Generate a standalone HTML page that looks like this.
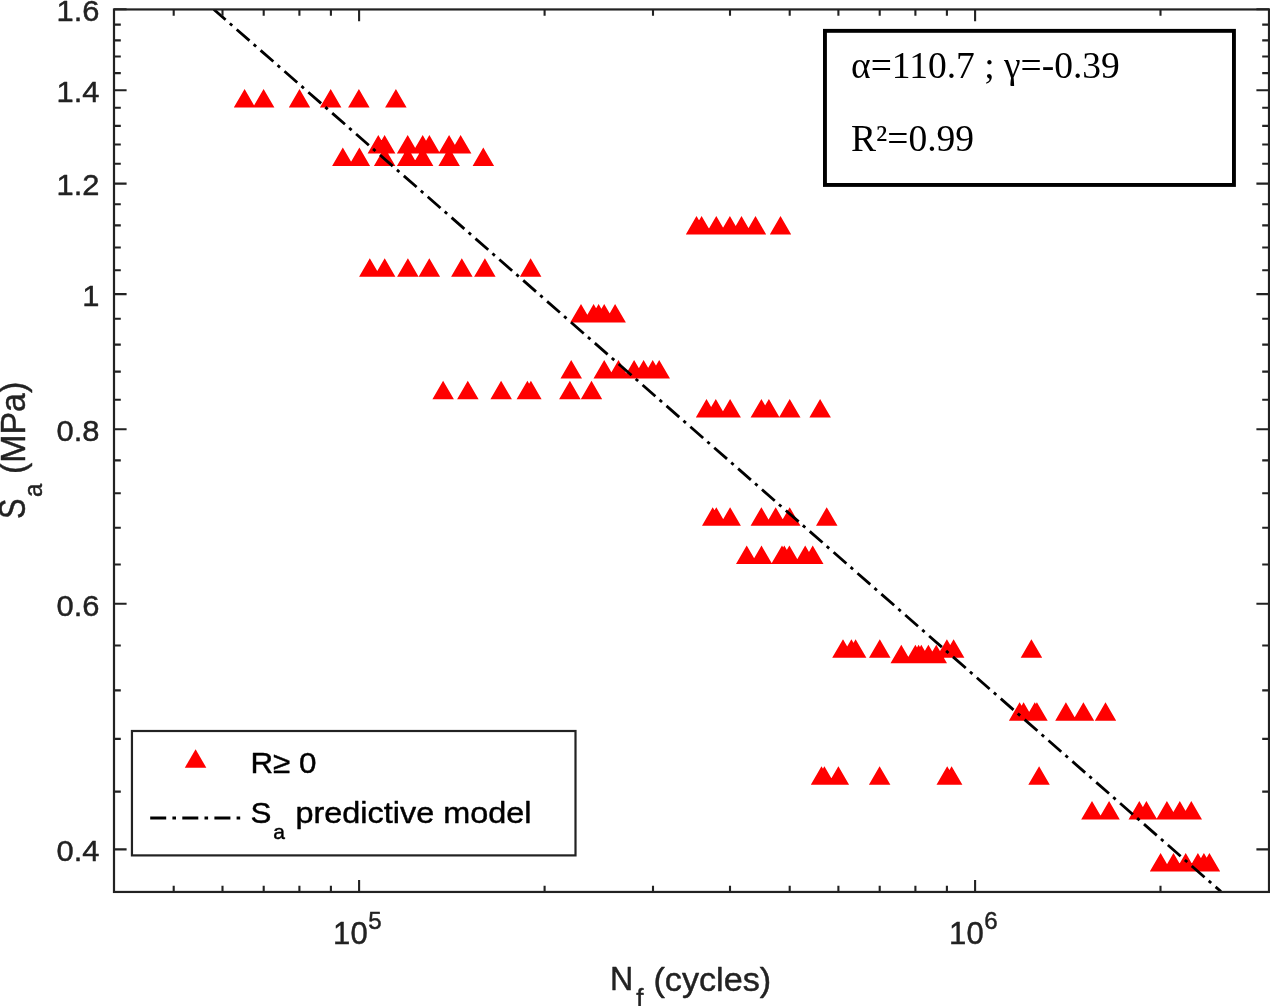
<!DOCTYPE html>
<html lang="en"><head><meta charset="utf-8"><title>S-N curve</title>
<style>html,body{margin:0;padding:0;background:#fff;overflow:hidden}svg{display:block}.s{font-family:"Liberation Sans",Arial,Helvetica,sans-serif}.t{font-family:"Liberation Serif","Times New Roman",serif}</style></head><body>
<svg width="1270" height="1006" viewBox="0 0 1270 1006">
<rect width="1270" height="1006" fill="#fff"/>
<path d="M244.6 88.9L255.3 107.4H233.8ZM263.6 88.9L274.4 107.4H252.9ZM299.5 88.9L310.2 107.4H288.8ZM330.7 88.9L341.4 107.4H319.9ZM358.9 88.9L369.6 107.4H348.1ZM395.9 88.9L406.6 107.4H385.1ZM342.8 147.4L353.6 165.9H332.1ZM359.4 147.4L370.1 165.9H348.6ZM384.6 147.4L395.4 165.9H373.9ZM407.7 147.4L418.4 165.9H396.9ZM422.7 147.4L433.4 165.9H411.9ZM449.1 147.4L459.9 165.9H438.4ZM483.3 147.4L494.1 165.9H472.6ZM378.3 134.9L389.1 153.4H367.6ZM384.6 134.9L395.4 153.4H373.9ZM407.7 134.9L418.4 153.4H396.9ZM422.7 134.9L433.4 153.4H411.9ZM429.4 134.9L440.1 153.4H418.6ZM449.1 134.9L459.9 153.4H438.4ZM460.6 134.9L471.4 153.4H449.9ZM696.5 216.1L707.2 234.6H685.8ZM701.6 216.1L712.4 234.6H690.9ZM716.3 216.1L727.0 234.6H705.5ZM729.9 216.1L740.6 234.6H719.1ZM741.5 216.1L752.2 234.6H730.8ZM755.5 216.1L766.2 234.6H744.8ZM780.5 216.1L791.2 234.6H769.8ZM369.8 258.3L380.6 276.8H359.1ZM384.7 258.3L395.4 276.8H373.9ZM407.9 258.3L418.6 276.8H397.1ZM429.3 258.3L440.1 276.8H418.6ZM461.8 258.3L472.6 276.8H451.1ZM484.9 258.3L495.6 276.8H474.1ZM530.6 258.3L541.4 276.8H519.9ZM581.0 303.9L591.8 322.4H570.2ZM593.6 303.9L604.4 322.4H582.9ZM598.6 303.9L609.4 322.4H587.9ZM604.2 303.9L615.0 322.4H593.5ZM615.1 303.9L625.9 322.4H604.4ZM571.2 360.1L582.0 378.6H560.5ZM604.2 360.1L615.0 378.6H593.5ZM618.5 360.1L629.2 378.6H607.8ZM634.1 360.1L644.9 378.6H623.4ZM643.6 360.1L654.4 378.6H632.9ZM652.7 360.1L663.5 378.6H642.0ZM659.2 360.1L670.0 378.6H648.5ZM443.1 380.8L453.9 399.3H432.4ZM467.8 380.8L478.6 399.3H457.1ZM501.1 380.8L511.9 399.3H490.4ZM527.4 380.8L538.1 399.3H516.6ZM530.9 380.8L541.6 399.3H520.1ZM569.9 380.8L580.6 399.3H559.1ZM591.5 380.8L602.2 399.3H580.8ZM706.5 398.9L717.2 417.4H695.8ZM715.8 398.9L726.5 417.4H705.0ZM730.1 398.9L740.9 417.4H719.4ZM761.4 398.9L772.1 417.4H750.6ZM768.9 398.9L779.6 417.4H758.1ZM789.7 398.9L800.5 417.4H779.0ZM820.1 398.9L830.9 417.4H809.4ZM712.7 507.2L723.5 525.7H702.0ZM716.3 507.2L727.0 525.7H705.5ZM730.1 507.2L740.9 525.7H719.4ZM761.4 507.2L772.1 525.7H750.6ZM775.7 507.2L786.5 525.7H765.0ZM789.7 507.2L800.5 525.7H779.0ZM826.7 507.2L837.5 525.7H816.0ZM746.7 545.6L757.5 564.1H736.0ZM761.5 545.6L772.2 564.1H750.8ZM782.0 545.6L792.8 564.1H771.2ZM784.3 545.6L795.0 564.1H773.5ZM789.4 545.6L800.1 564.1H778.6ZM805.2 545.6L816.0 564.1H794.5ZM812.7 545.6L823.5 564.1H802.0ZM901.3 644.7L912.0 663.2H890.5ZM915.4 644.7L926.1 663.2H904.6ZM918.6 644.7L929.4 663.2H907.9ZM921.3 644.7L932.0 663.2H910.5ZM928.4 644.7L939.1 663.2H917.6ZM936.3 644.7L947.0 663.2H925.5ZM843.0 639.3L853.8 657.8H832.2ZM851.4 639.3L862.1 657.8H840.6ZM855.6 639.3L866.4 657.8H844.9ZM879.8 639.3L890.5 657.8H869.0ZM946.9 639.3L957.6 657.8H936.1ZM953.6 639.3L964.4 657.8H942.9ZM1031.4 639.3L1042.2 657.8H1020.7ZM1019.6 702.3L1030.3 720.8H1008.9ZM1023.6 702.3L1034.3 720.8H1012.9ZM1034.8 702.3L1045.5 720.8H1024.0ZM1036.9 702.3L1047.7 720.8H1026.2ZM1065.9 702.3L1076.7 720.8H1055.2ZM1083.4 702.3L1094.2 720.8H1072.7ZM1105.5 702.3L1116.2 720.8H1094.8ZM821.5 766.3L832.2 784.8H810.8ZM824.4 766.3L835.1 784.8H813.6ZM838.4 766.3L849.1 784.8H827.6ZM879.6 766.3L890.4 784.8H868.9ZM947.2 766.3L958.0 784.8H936.5ZM951.6 766.3L962.4 784.8H940.9ZM1039.1 766.3L1049.8 784.8H1028.3ZM1092.0 801.0L1102.8 819.5H1081.2ZM1109.1 801.0L1119.8 819.5H1098.3ZM1139.3 801.0L1150.0 819.5H1128.5ZM1146.4 801.0L1157.2 819.5H1135.7ZM1166.9 801.0L1177.7 819.5H1156.2ZM1179.8 801.0L1190.5 819.5H1169.0ZM1191.3 801.0L1202.0 819.5H1180.5ZM1160.6 853.0L1171.3 871.5H1149.8ZM1173.5 853.0L1184.2 871.5H1162.8ZM1185.7 853.0L1196.5 871.5H1175.0ZM1197.9 853.0L1208.7 871.5H1187.2ZM1203.9 853.0L1214.7 871.5H1193.2ZM1209.4 853.0L1220.2 871.5H1198.7Z" fill="#ff0000"/>
<clipPath id="c"><rect x="114.0" y="9.4" width="1155.0" height="882.5"/></clipPath>
<path d="M213.8 9.4L1221.0 891.6" stroke="#000" stroke-width="2.8" stroke-dasharray="17 5.6 3.2 5.94" stroke-dashoffset="1.3" fill="none" clip-path="url(#c)"/>
<path d="M114.0 849.4h12.6M1269.0 849.4h-12.6M114.0 791.6h6.8M1269.0 791.6h-6.8M114.0 738.9h6.8M1269.0 738.9h-6.8M114.0 690.4h6.8M1269.0 690.4h-6.8M114.0 645.5h6.8M1269.0 645.5h-6.8M114.0 603.7h12.6M1269.0 603.7h-12.6M114.0 564.5h6.8M1269.0 564.5h-6.8M114.0 527.8h6.8M1269.0 527.8h-6.8M114.0 493.2h6.8M1269.0 493.2h-6.8M114.0 460.4h6.8M1269.0 460.4h-6.8M114.0 429.3h12.6M1269.0 429.3h-12.6M114.0 399.8h6.8M1269.0 399.8h-6.8M114.0 371.6h6.8M1269.0 371.6h-6.8M114.0 344.6h6.8M1269.0 344.6h-6.8M114.0 318.8h6.8M1269.0 318.8h-6.8M114.0 294.1h12.6M1269.0 294.1h-12.6M114.0 270.3h6.8M1269.0 270.3h-6.8M114.0 247.5h6.8M1269.0 247.5h-6.8M114.0 225.4h6.8M1269.0 225.4h-6.8M114.0 204.2h6.8M1269.0 204.2h-6.8M114.0 183.6h12.6M1269.0 183.6h-12.6M114.0 163.7h6.8M1269.0 163.7h-6.8M114.0 144.5h6.8M1269.0 144.5h-6.8M114.0 125.9h6.8M1269.0 125.9h-6.8M114.0 107.8h6.8M1269.0 107.8h-6.8M114.0 90.2h12.6M1269.0 90.2h-12.6M114.0 73.1h6.8M1269.0 73.1h-6.8M114.0 56.5h6.8M1269.0 56.5h-6.8M114.0 40.4h6.8M1269.0 40.4h-6.8M114.0 24.6h6.8M1269.0 24.6h-6.8M173.7 892.0v-6.3M173.7 9.45v6.3M222.5 892.0v-6.3M222.5 9.45v6.3M263.7 892.0v-6.3M263.7 9.45v6.3M299.4 892.0v-6.3M299.4 9.45v6.3M330.9 892.0v-6.3M330.9 9.45v6.3M359.1 892.0v-11.9M359.1 9.45v11.9M544.6 892.0v-6.3M544.6 9.45v6.3M653.0 892.0v-6.3M653.0 9.45v6.3M730.0 892.0v-6.3M730.0 9.45v6.3M789.7 892.0v-6.3M789.7 9.45v6.3M838.4 892.0v-6.3M838.4 9.45v6.3M879.7 892.0v-6.3M879.7 9.45v6.3M915.4 892.0v-6.3M915.4 9.45v6.3M946.9 892.0v-6.3M946.9 9.45v6.3M975.1 892.0v-11.9M975.1 9.45v11.9M1160.5 892.0v-6.3M1160.5 9.45v6.3M114.0 9.3h12.6M1269.0 9.3h-12.6" stroke="#222222" stroke-width="2.1" fill="none"/>
<rect x="114.0" y="9.45" width="1155.0" height="882.5" fill="none" stroke="#222222" stroke-width="2.2"/>
<text class="s" transform="translate(99.4 21.1) scale(1.030 1)" text-anchor="end" font-size="30.0" fill="#222222" stroke="#222222" stroke-width="0.45" stroke-linejoin="round">1.6</text>
<text class="s" transform="translate(99.4 102.0) scale(1.030 1)" text-anchor="end" font-size="30.0" fill="#222222" stroke="#222222" stroke-width="0.45" stroke-linejoin="round">1.4</text>
<text class="s" transform="translate(99.4 195.4) scale(1.030 1)" text-anchor="end" font-size="30.0" fill="#222222" stroke="#222222" stroke-width="0.45" stroke-linejoin="round">1.2</text>
<text class="s" transform="translate(99.4 305.9) scale(1.030 1)" text-anchor="end" font-size="30.0" fill="#222222" stroke="#222222" stroke-width="0.45" stroke-linejoin="round">1</text>
<text class="s" transform="translate(99.4 441.1) scale(1.030 1)" text-anchor="end" font-size="30.0" fill="#222222" stroke="#222222" stroke-width="0.45" stroke-linejoin="round">0.8</text>
<text class="s" transform="translate(99.4 615.5) scale(1.030 1)" text-anchor="end" font-size="30.0" fill="#222222" stroke="#222222" stroke-width="0.45" stroke-linejoin="round">0.6</text>
<text class="s" transform="translate(99.4 861.2) scale(1.030 1)" text-anchor="end" font-size="30.0" fill="#222222" stroke="#222222" stroke-width="0.45" stroke-linejoin="round">0.4</text>
<text class="s" transform="translate(333.1 943.9) scale(0.990 1)" font-size="31.4" fill="#222222" stroke="#222222" stroke-width="0.45" stroke-linejoin="round">10</text>
<text class="s" transform="translate(368.3 928.5) scale(0.980 1)" font-size="24.6" fill="#222222" stroke="#222222" stroke-width="0.45" stroke-linejoin="round">5</text>
<text class="s" transform="translate(949.1 943.9) scale(0.990 1)" font-size="31.4" fill="#222222" stroke="#222222" stroke-width="0.45" stroke-linejoin="round">10</text>
<text class="s" transform="translate(984.3 928.5) scale(0.980 1)" font-size="24.6" fill="#222222" stroke="#222222" stroke-width="0.45" stroke-linejoin="round">6</text>
<text class="s" transform="translate(609.9 990.4) scale(0.970 1)" font-size="33.2" fill="#222222" stroke="#222222" stroke-width="0.45" stroke-linejoin="round">N</text>
<text class="s" transform="translate(636.3 1007.4) scale(1.030 1)" font-size="25" fill="#222222" stroke="#222222" stroke-width="0.45" stroke-linejoin="round">f</text>
<text class="s" transform="translate(653.4 990.5) scale(1.027 1)" font-size="33.3" fill="#222222" stroke="#222222" stroke-width="0.45" stroke-linejoin="round">(cycles)</text>
<text class="s" transform="translate(24.8 519.0) rotate(-90) scale(0.850 1)" font-size="36.2" fill="#222222" stroke="#222222" stroke-width="0.45" stroke-linejoin="round">S</text>
<text class="s" transform="translate(41.5 497.0) rotate(-90) scale(0.960 1)" font-size="25" fill="#222222" stroke="#222222" stroke-width="0.45" stroke-linejoin="round">a</text>
<text class="s" transform="translate(24.8 474.0) rotate(-90) scale(0.963 1)" font-size="35.2" fill="#222222" stroke="#222222" stroke-width="0.45" stroke-linejoin="round">(MPa)</text>
<rect x="131.95" y="731.0" width="443.55" height="124.4" fill="#fff" stroke="#222" stroke-width="2.2"/>
<path d="M195.6 749.2L206.3 767.7H184.8Z" fill="#ff0000"/>
<text class="s" transform="translate(250.4 772.9) scale(1.035 1)" font-size="30.3" fill="#000" stroke="#000" stroke-width="0.45" stroke-linejoin="round">R≥ 0</text>
<path d="M150.2 818H241" stroke="#000" stroke-width="2.8" stroke-dasharray="16 6.2 3.6 6.3" fill="none"/>
<text class="s" transform="translate(250.6 823.0) scale(1.035 1)" font-size="30.3" fill="#000" stroke="#000" stroke-width="0.45" stroke-linejoin="round">S</text>
<text class="s" transform="translate(273.2 839.2)" font-size="21" fill="#000" stroke="#000" stroke-width="0.45" stroke-linejoin="round">a</text>
<text class="s" transform="translate(295.5 823.0) scale(1.070 1)" font-size="30.3" fill="#000" stroke="#000" stroke-width="0.45" stroke-linejoin="round">predictive model</text>
<rect x="824.95" y="30.85" width="409.0" height="154.1" fill="#fff" stroke="#000" stroke-width="3.9"/>
<text class="t" transform="translate(851.0 78.4)" font-size="37.5" fill="#000">α=110.7 ; γ=-0.39</text>
<text class="t" transform="translate(851.0 151.0)" font-size="37.5" fill="#000">R²=0.99</text>
</svg></body></html>
